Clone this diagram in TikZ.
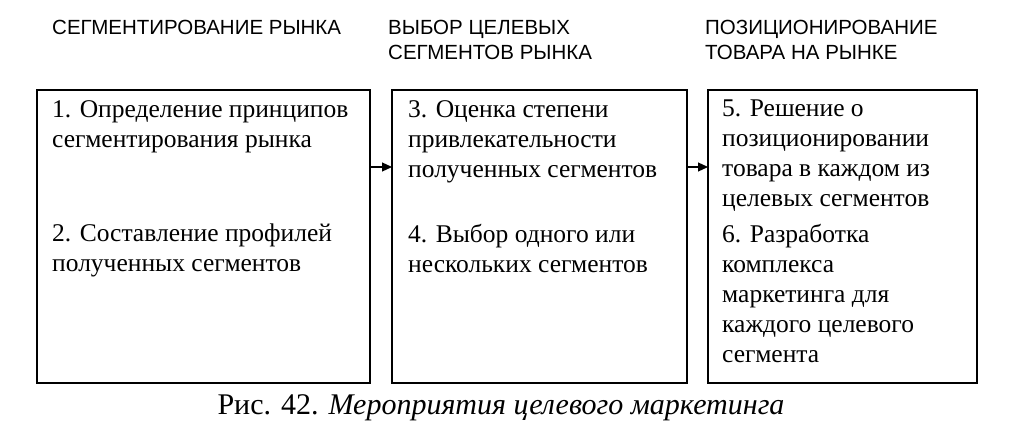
\documentclass[tikz,border=0pt]{standalone}
\usepackage{fontspec}
\setmainfont{Liberation Serif}
\newfontfamily\hdr{Liberation Sans}
\usetikzlibrary{arrows.meta}
\begin{document}
\begin{tikzpicture}[x=1pt,y=-1pt,
  box/.style={draw,line width=1.2pt},
  hd/.style={anchor=north west,inner sep=0pt,font=\hdr\fontsize{20.5}{25}\selectfont,align=left},
  bt/.style={anchor=north west,inner sep=0pt,font=\fontsize{25.5}{30}\selectfont,align=left},
  arr/.style={-{Triangle[length=10pt,width=9pt]},line width=1.2pt}]
\useasboundingbox (0,0) rectangle (1010,433);
\draw[box] (37,90) rectangle (370,383);
\draw[box] (392,90) rectangle (687,383);
\draw[box] (708,90) rectangle (977,383);
\coordinate (a1) at (370,167); \coordinate (a2) at (392,167);
\coordinate (b1) at (687,167); \coordinate (b2) at (708,167);
\draw[arr] (a1) -- (a2);
\draw[arr] (b1) -- (b2);
\node[hd] (h1) at (52,20) {СЕГМЕНТИРОВАНИЕ РЫНКА};
\node[hd] (h2) at (388,20) {ВЫБОР ЦЕЛЕВЫХ\\СЕГМЕНТОВ РЫНКА};
\node[hd] (h3) at (705,20) {ПОЗИЦИОНИРОВАНИЕ\\ТОВАРА НА РЫНКЕ};
\node[bt] (t1) at (52,100) {1. Определение принципов\\сегментирования рынка};
\node[bt] (t2) at (52,224) {2. Составление профилей\\полученных сегментов};
\node[bt] (t3) at (408,100) {3. Оценка степени\\привлекательности\\полученных сегментов};
\node[bt] (t4) at (408,224) {4. Выбор одного или\\нескольких сегментов};
\node[bt] (t5) at (722,100) {5. Решение о\\позиционировании\\товара в каждом из\\целевых сегментов};
\node[bt] (t6) at (722,224) {6. Разработка\\комплекса\\маркетинга для\\каждого целевого\\сегмента};
\node[anchor=base,inner sep=0pt,font=\fontsize{30}{34}\selectfont] (cap) at (501,414) {Рис. 42. \textit{Мероприятия целевого маркетинга}};
\end{tikzpicture}
\end{document}
